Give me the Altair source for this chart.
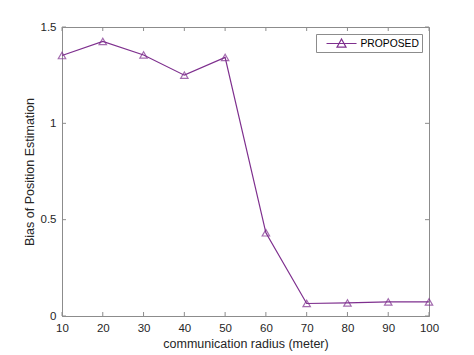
import altair as alt
import pandas as pd

radius = [10, 20, 30, 40, 50, 60, 70, 80, 90, 100]
bias = [1.352, 1.425, 1.355, 1.250, 1.342, 0.432, 0.065, 0.068, 0.073, 0.073]
series = "PROPOSED"
x_ticks = [10, 20, 30, 40, 50, 60, 70, 80, 90, 100]
y_ticks = [0, 0.5, 1, 1.5]

df = pd.DataFrame({"radius": radius, "bias": bias, "series": [series] * len(radius)})
xt = pd.DataFrame({"v": x_ticks})
yt = pd.DataFrame({"v": y_ticks})

W, H = 367, 289
purple = "#7E2F8E"
grey = "#8c8c8c"
font = "Liberation Sans"

xs = alt.Scale(domain=[10, 100], nice=False)
ys = alt.Scale(domain=[0, 1.5], nice=False)

color = alt.Color(
    "series:N",
    scale=alt.Scale(range=[purple]),
    legend=alt.Legend(
        title=None,
        orient="none",
        legendX=254,
        legendY=7,
        symbolType="M0.17,0H5.17M2.67,-0.75L3.42,0.6L1.92,0.6Z",
        symbolSize=144,
        symbolStrokeWidth=1.2,
        symbolFillColor="transparent",
        labelFont=font,
        labelFontSize=10.3,
        labelColor="#000000",
        strokeColor=grey,
        fillColor="white",
        padding=2.5,
        labelOffset=28,
    ),
)

line = alt.Chart(df).mark_line(strokeWidth=1.2).encode(
    x=alt.X("radius:Q", scale=xs,
            axis=alt.Axis(values=x_ticks, title="communication radius (meter)", ticks=False,
                          labelPadding=6, grid=False, labelFlush=False, format="d")),
    y=alt.Y("bias:Q", scale=ys,
            axis=alt.Axis(values=y_ticks, title="Bias of Position Estimation", ticks=False,
                          labelPadding=6, grid=False, labelFlush=False, format="~g")),
    color=color,
)

pts = alt.Chart(df).mark_point(shape="triangle-up", filled=False, size=55, strokeWidth=1.2).encode(
    x=alt.X("radius:Q", scale=xs),
    y=alt.Y("bias:Q", scale=ys),
    color=alt.Color("series:N", scale=alt.Scale(range=[purple]), legend=None),
)

tick_len = 4
xb = alt.Chart(xt).mark_rule(color=grey, strokeWidth=1).encode(
    x=alt.X("v:Q", scale=xs), y=alt.value(H), y2=alt.value(H - tick_len))
xtop = alt.Chart(xt).mark_rule(color=grey, strokeWidth=1).encode(
    x=alt.X("v:Q", scale=xs), y=alt.value(0), y2=alt.value(tick_len))
yl = alt.Chart(yt).mark_rule(color=grey, strokeWidth=1).encode(
    y=alt.Y("v:Q", scale=ys), x=alt.value(0), x2=alt.value(tick_len))
yr = alt.Chart(yt).mark_rule(color=grey, strokeWidth=1).encode(
    y=alt.Y("v:Q", scale=ys), x=alt.value(W), x2=alt.value(W - tick_len))

chart = alt.layer(xb, xtop, yl, yr, line, pts).properties(
    width=W, height=H,
    autosize=alt.AutoSizeParams(type="none"),
    padding={"left": 54, "top": 19, "right": 30, "bottom": 40},
).configure_view(
    stroke=grey, strokeWidth=1
).configure_axis(
    domainColor=grey,
    labelFont=font, labelFontSize=11.5, labelColor="#262626",
    titleFont=font, titleFontSize=12.5, titleColor="#262626", titleFontWeight="normal",
).configure_axisY(titlePadding=4).configure_axisX(titlePadding=4)

chart.save("out.html", embed_options={"renderer": "svg", "actions": False})
